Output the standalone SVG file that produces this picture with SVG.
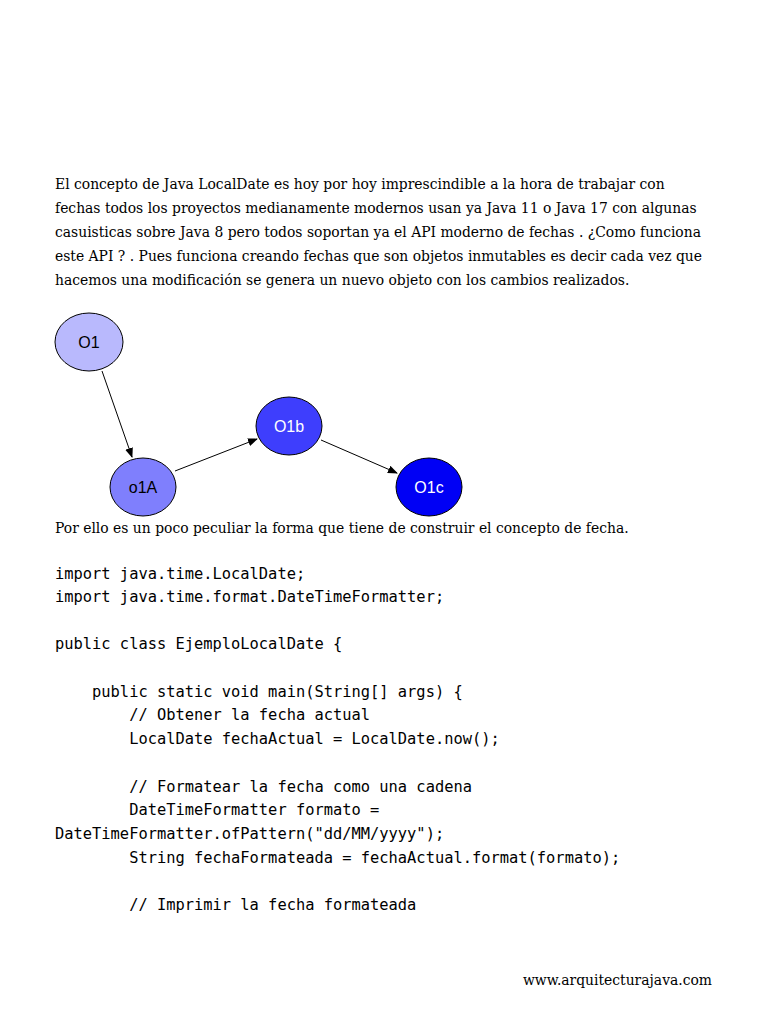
<svg xmlns="http://www.w3.org/2000/svg" width="768" height="1024" viewBox="0 0 768 1024">
<style>
.p{font-family:"DejaVu Serif",serif;font-size:13.9px;fill:#000}
.c{font-family:"DejaVu Sans Mono",monospace;font-size:15.4px;fill:#000;white-space:pre}
.n{stroke:#000;stroke-width:1}
.l{font-family:"Liberation Sans",Arial,sans-serif;font-size:16px;text-anchor:middle}
.e{stroke:#000;stroke-width:1;fill:none;marker-end:url(#a)}
</style>
<defs><marker id="a" markerWidth="10" markerHeight="8" refX="9" refY="4" orient="auto" markerUnits="userSpaceOnUse"><path d="M0,0 L10,4 L0,8 z" fill="#000"/></marker></defs>
<rect width="768" height="1024" fill="#fff"/>
<text class="p" x="55" y="189">El concepto de Java LocalDate es hoy por hoy imprescindible a la hora de trabajar con</text>
<text class="p" x="55" y="213">fechas todos los proyectos medianamente modernos usan ya Java 11 o Java 17 con algunas</text>
<text class="p" x="55" y="237">casuisticas sobre Java 8 pero todos soportan ya el API moderno de fechas . ¿Como funciona</text>
<text class="p" x="55" y="261">este API ? . Pues funciona creando fechas que son objetos inmutables es decir cada vez que</text>
<text class="p" x="55" y="285">hacemos una modificación se genera un nuevo objeto con los cambios realizados.</text>
<g id="connectors">
<path class="e" d="M102,371 L132,457"/>
<path class="e" d="M175,471 L257,439"/>
<path class="e" d="M321,440 L397,473"/>
</g>
<g id="O1"><ellipse class="n" cx="89" cy="342" rx="34" ry="29" fill="#b9b9fd"/><text class="l" x="89" y="348">O1</text></g>
<g id="o1A"><ellipse class="n" cx="143" cy="487" rx="33" ry="29" fill="#7f7ffd"/><text class="l" x="143" y="493">o1A</text></g>
<g id="O1b"><ellipse class="n" cx="289" cy="426" rx="33" ry="29" fill="#3e3efd"/><text class="l" x="289" y="432" fill="#fff">O1b</text></g>
<g id="O1c"><ellipse class="n" cx="429" cy="487" rx="33" ry="29" fill="#0000f5"/><text class="l" x="429" y="493" fill="#fff">O1c</text></g>
<text class="p" x="55" y="533">Por ello es un poco peculiar la forma que tiene de construir el concepto de fecha.</text>
<text class="c" x="55" y="579">import java.time.LocalDate;</text>
<text class="c" x="55" y="602">import java.time.format.DateTimeFormatter;</text>
<text class="c" x="55" y="649">public class EjemploLocalDate {</text>
<text class="c" x="55" y="697">    public static void main(String[] args) {</text>
<text class="c" x="55" y="720">        // Obtener la fecha actual</text>
<text class="c" x="55" y="744">        LocalDate fechaActual = LocalDate.now();</text>
<text class="c" x="55" y="792">        // Formatear la fecha como una cadena</text>
<text class="c" x="55" y="815">        DateTimeFormatter formato =</text>
<text class="c" x="55" y="839">DateTimeFormatter.ofPattern("dd/MM/yyyy");</text>
<text class="c" x="55" y="863">        String fechaFormateada = fechaActual.format(formato);</text>
<text class="c" x="55" y="910">        // Imprimir la fecha formateada</text>
<text class="p" x="712" y="985" text-anchor="end">www.arquitecturajava.com</text>
</svg>
